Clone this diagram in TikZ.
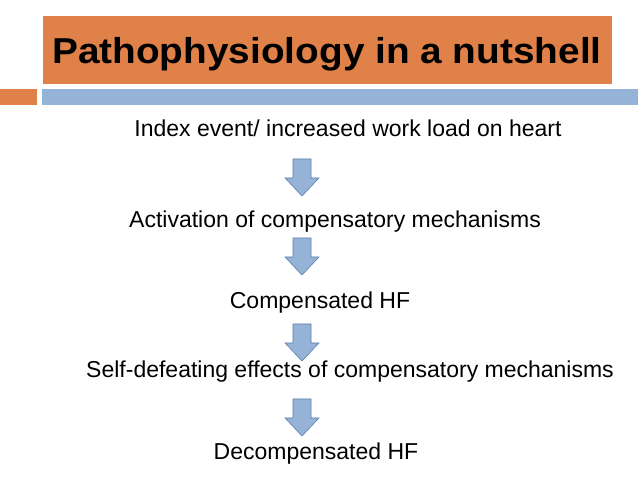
\documentclass[tikz,border=0pt]{standalone}
\usepackage{fontspec}
\setmainfont{Liberation Sans}
\definecolor{titleorange}{HTML}{DF8148}
\definecolor{barblue}{HTML}{95B3D7}
\definecolor{arrowfill}{HTML}{95B3D7}
\definecolor{arrowline}{HTML}{5B7FAE}
\begin{document}
\begin{tikzpicture}[x=1pt,y=-1pt,
  txt/.style={anchor=base,inner sep=0pt,font=\fontsize{23}{27}\selectfont},
  blockarrow/.style={fill=arrowfill,draw=arrowline,line width=0.6pt,line join=miter}]
\useasboundingbox (0,0) rectangle (638,478);
% header
\node[fill=titleorange,minimum width=569pt,minimum height=68pt,inner sep=0pt,anchor=north west] (titlebox) at (43,16) {};
\node[anchor=base west,inner sep=0pt,xscale=1.077,font=\fontsize{36}{42}\bfseries\selectfont] (title) at (52,64) {Pathophysiology in a nutshell};
\node[fill=titleorange,minimum width=37pt,minimum height=16pt,inner sep=0pt,anchor=north west] (leftsq) at (0,89) {};
\node[fill=barblue,minimum width=596pt,minimum height=16pt,inner sep=0pt,anchor=north west] (bar) at (42,89) {};
% texts
\node[txt] (t1) at (348,137) {Index event/ increased work load on heart};
\node[txt] (t2) at (335,228) {Activation of compensatory mechanisms};
\node[txt] (t3) at (320,309) {Compensated HF};
\node[txt] (t4) at (350,378) {Self-defeating effects of compensatory mechanisms};
\node[txt] (t5) at (316,460) {Decompensated HF};
% arrows
\foreach \top/\nm in {159/a1,238/a2,324/a3,399/a4}{
  \draw[blockarrow] (293,\top) -- (311,\top) -- (311,\top+19) -- (319,\top+19) -- (302,\top+37) -- (285,\top+19) -- (293,\top+19) -- cycle;
}
\end{tikzpicture}
\end{document}
